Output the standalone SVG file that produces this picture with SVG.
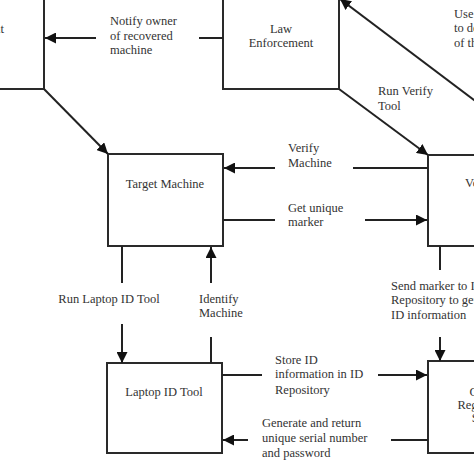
<svg xmlns="http://www.w3.org/2000/svg" width="474" height="474" viewBox="0 0 474 474">
<style>
.box{fill:#fff;stroke:#2a2a2a;stroke-width:2}
.ln{stroke:#222;stroke-width:2;fill:none}
text{font-family:"Liberation Serif","Times New Roman",serif;font-size:12.5px;fill:#333}
.c{text-anchor:middle}
</style>
<defs>
<marker id="ah" viewBox="0 0 10 10" refX="10" refY="5" markerWidth="11" markerHeight="11" markerUnits="userSpaceOnUse" orient="auto">
<path d="M0,0 L10,5 L0,10 z" fill="#111"/>
</marker>
</defs>
<rect width="474" height="474" fill="#fff"/>
<g id="owner">
<rect class="box" x="-10" y="-10" width="54" height="99"/>
<text x="4" y="33" text-anchor="end">Client</text>
</g>
<g id="law">
<rect class="box" x="223" y="-10" width="116" height="99"/>
<text class="c" x="281" y="33">Law</text>
<text class="c" x="281" y="47">Enforcement</text>
</g>
<g id="target">
<rect class="box" x="108" y="154" width="115" height="92"/>
<text class="c" x="165" y="188">Target Machine</text>
</g>
<g id="verify">
<rect class="box" x="428" y="155" width="60" height="91"/>
<text x="465" y="187">Verify Tool</text>
</g>
<g id="laptop">
<rect class="box" x="107" y="363" width="115" height="90"/>
<text class="c" x="164" y="396">Laptop ID Tool</text>
</g>
<g id="repo">
<rect class="box" x="428" y="361" width="60" height="92"/>
<text class="c" x="488" y="396">Central</text>
<text class="c" x="488" y="409">Registration</text>
<text class="c" x="488" y="422">Server</text>
</g>
<g id="connectors">
<line class="ln" x1="96" y1="38" x2="45" y2="38" marker-end="url(#ah)"/>
<line class="ln" x1="199" y1="38" x2="223" y2="38"/>
<line class="ln" x1="44" y1="89" x2="108" y2="154" marker-end="url(#ah)"/>
<line class="ln" x1="339" y1="89" x2="428" y2="155" marker-end="url(#ah)"/>
<line class="ln" x1="490" y1="112" x2="340" y2="-1" marker-end="url(#ah)"/>
<line class="ln" x1="428" y1="168" x2="353" y2="168"/>
<line class="ln" x1="275" y1="168" x2="224" y2="168" marker-end="url(#ah)"/>
<line class="ln" x1="223" y1="220" x2="275" y2="220"/>
<line class="ln" x1="365" y1="220" x2="427" y2="220" marker-end="url(#ah)"/>
<line class="ln" x1="440" y1="246" x2="440" y2="270"/>
<line class="ln" x1="440" y1="337" x2="440" y2="361" marker-end="url(#ah)"/>
<line class="ln" x1="122" y1="246" x2="122" y2="283"/>
<line class="ln" x1="122" y1="324" x2="122" y2="363" marker-end="url(#ah)"/>
<line class="ln" x1="211" y1="363" x2="211" y2="337"/>
<line class="ln" x1="211" y1="283" x2="211" y2="247" marker-end="url(#ah)"/>
<line class="ln" x1="222" y1="375" x2="262" y2="375"/>
<line class="ln" x1="378" y1="375" x2="427" y2="375" marker-end="url(#ah)"/>
<line class="ln" x1="428" y1="440" x2="391" y2="440"/>
<line class="ln" x1="248" y1="440" x2="223" y2="440" marker-end="url(#ah)"/>
</g>
<g id="labels">
<text x="110" y="25">Notify owner</text>
<text x="110" y="39.5">of recovered</text>
<text x="110" y="54">machine</text>
<text x="454" y="18">Use registration</text>
<text x="454" y="32">to determine owner</text>
<text x="454" y="47">of the machine</text>
<text x="378" y="95">Run Verify</text>
<text x="378" y="110">Tool</text>
<text x="288" y="152">Verify</text>
<text x="288" y="167">Machine</text>
<text x="288" y="212">Get unique</text>
<text x="288" y="226">marker</text>
<text x="391" y="290">Send marker to ID</text>
<text x="391" y="304">Repository to get</text>
<text x="391" y="319">ID information</text>
<text class="c" x="109" y="303">Run Laptop ID Tool</text>
<text x="199" y="303">Identify</text>
<text x="199" y="317">Machine</text>
<text x="275" y="364">Store ID</text>
<text x="275" y="378">information in ID</text>
<text x="275" y="394">Repository</text>
<text x="262" y="427">Generate and return</text>
<text x="262" y="442">unique serial number</text>
<text x="262" y="457">and password</text>
</g>
</svg>
